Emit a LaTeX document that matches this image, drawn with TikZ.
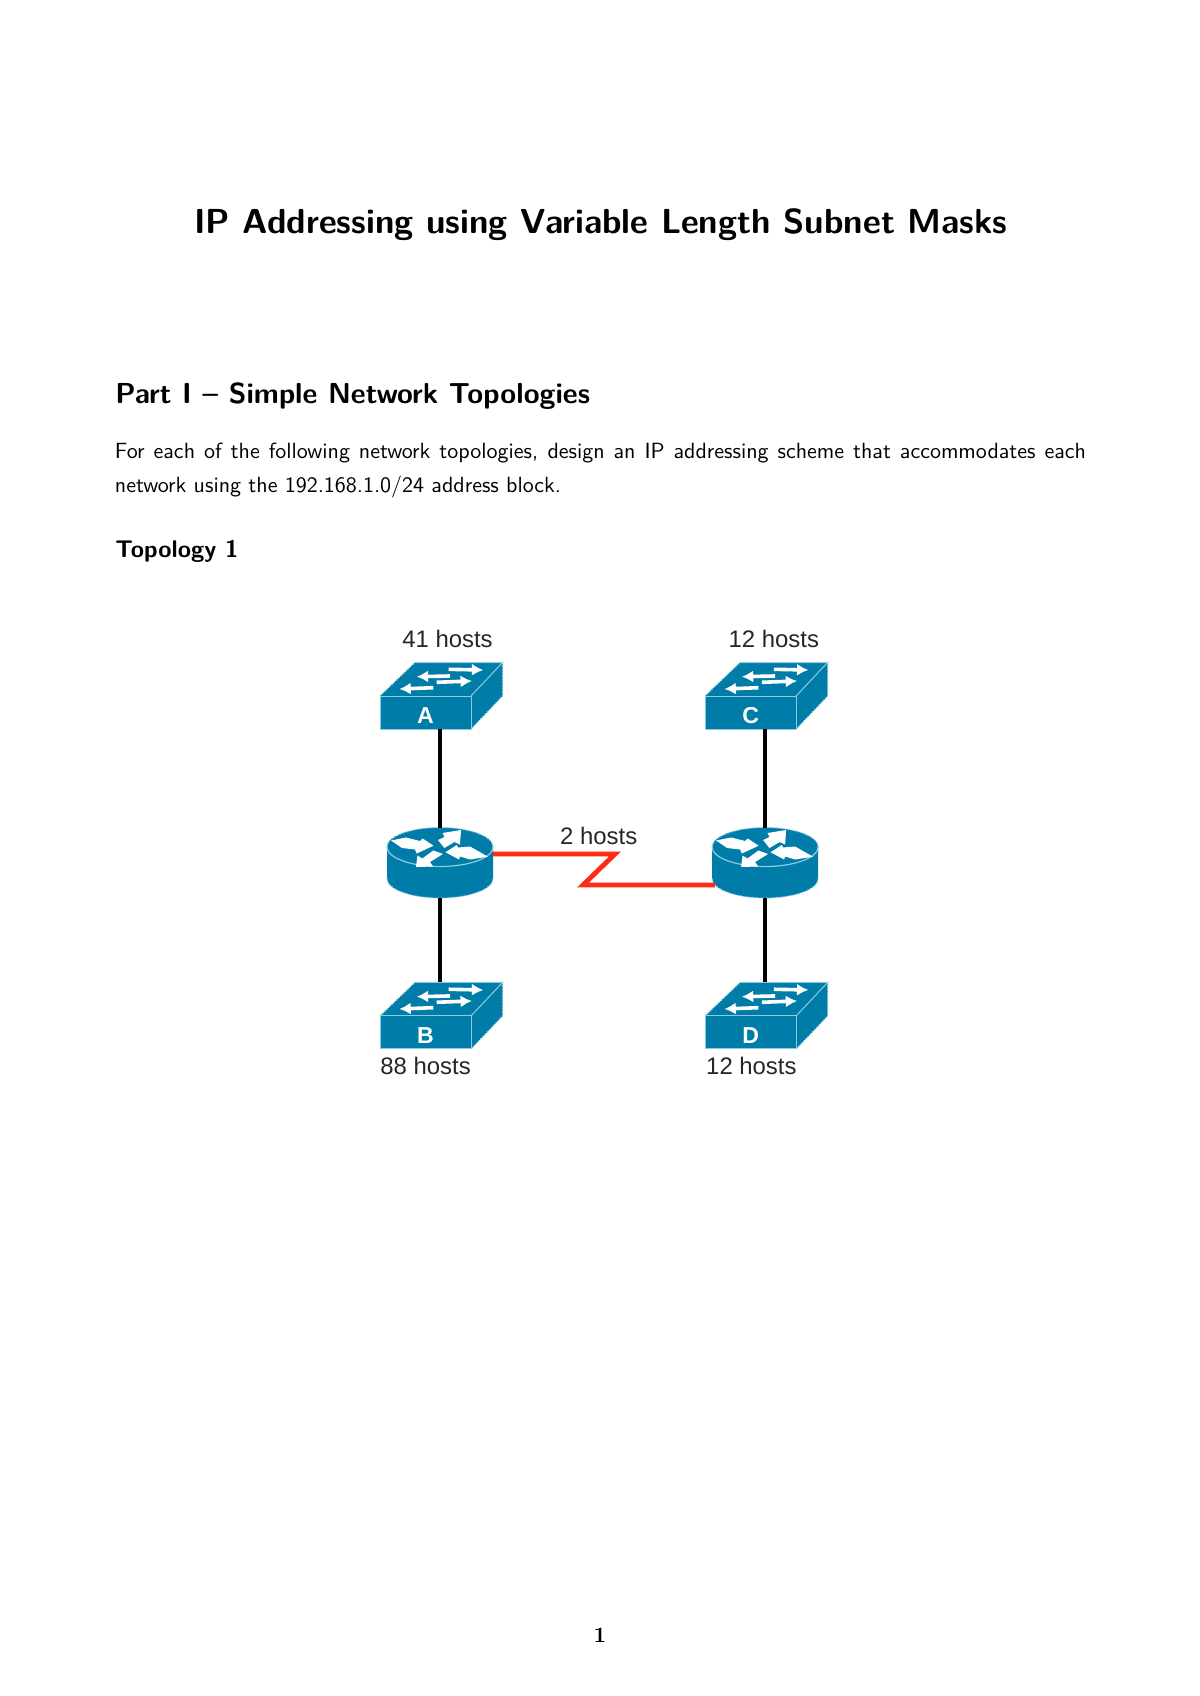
\documentclass[tikz,border=0pt]{standalone}
\usepackage{fontspec}
\newfontfamily\hostfont{Liberation Sans}
\usetikzlibrary{arrows.meta}
\definecolor{ciscoblue}{HTML}{007CA8}
\definecolor{ciscoedge}{HTML}{8CCBE0}
\definecolor{serialred}{HTML}{FF2A12}
\tikzset{
  swarr/.style={white, line width=1.8pt, -{Latex[length=2mm,width=2.1mm]}},
  iconface/.style={fill=ciscoblue, draw=ciscoedge, line width=0.5pt, line join=round},
  iconfringe/.style={draw=ciscoedge, line width=0.6pt, densely dotted},
  iconarr/.style={fill=white, draw=none},
  wire/.style={line width=2.2pt},
  serial/.style={draw=serialred, line width=2.4pt, miter limit=10},
  hostlbl/.style={font=\hostfont\fontsize{11.9}{14}\selectfont, inner sep=0pt, text=black!85},
  swlbl/.style={font=\hostfont\bfseries\fontsize{11.5}{13}\selectfont, text=white, inner sep=0pt},
  pics/switchbox/.style={code={
    \path[fill=ciscoblue] (0,0) -- (35,-33.5) -- (122.5,-33.5) -- (122.5,0) -- (91,33) -- (0,33) -- cycle;
    \path[iconfringe] (0,0) -- (35,-33.5) (122.5,-33.5) -- (122.5,0) -- (91,33);
    \draw[iconface] (0,0) rectangle (91,33);
    \draw[draw=ciscoedge, line width=0.5pt] (91,0) -- (122.5,-33.5) -- (35,-33.5);
    \foreach \xa/\ya/\xb/\yb in {68.7/-26.7/103.3/-26, 70/-20/36.7/-19.3, 56.7/-13.7/92/-15, 53.3/-8.3/19.3/-7}
      \draw[swarr] (\xa,\ya) -- (\xb,\yb);
    \node[swlbl] (-name) at (45.5,19.5) {#1};
    \node[coordinate] (-top) at (60,-33.5) {};
    \node[coordinate] (-bot) at (60,33) {};
  }},
  pics/routerdisc/.style={code={
    \path[fill=ciscoblue] (-53,0) -- (-53,31.5) arc[start angle=180, end angle=0, x radius=53, y radius=19.5] -- (53,0) arc[start angle=0, end angle=-180, x radius=53, y radius=19.5] -- cycle;
    \path[iconfringe] (-53,31.5) arc[start angle=180, end angle=0, x radius=53, y radius=19.5];
    \path[iconfringe] (53,0) arc[start angle=0, end angle=-180, x radius=53, y radius=19.5];
    \draw[draw=ciscoedge, line width=0.6pt] (-53,0) arc[start angle=180, end angle=0, x radius=53, y radius=19.5];
    \fill[iconarr] (-49,-6.5) -- (-34,-9.5) -- (-20,-6) -- (-17.3,-8.5) -- (-6.5,-1.3) -- (-23.3,6.5) -- (-25,2.5) -- (-38,1) -- cycle;
    \fill[iconarr] (-2,-7) -- (4.5,-10) -- (2.5,-14) -- (21,-17) -- (20,-2.5) -- (14.5,-5) -- (4.3,1) -- cycle;
    \fill[iconarr] (-24,20) -- (-22.5,8.5) -- (-17.7,11.5) -- (-6.7,3.5) -- (3,7) -- (-10,15) -- (-7,19.5) -- cycle;
    \fill[iconarr] (5.5,5.3) -- (16.7,-2) -- (18,0.5) -- (30,-0.5) -- (48,9.7) -- (30,12.5) -- (20,9.5) -- (19,12.5) -- cycle;
    \node[coordinate] (-top) at (0,-19.5) {};
    \node[coordinate] (-bot) at (0,51) {};
    \node[coordinate] (-east) at (53,7) {};
    \node[coordinate] (-west) at (-50,38) {};
  }},
}
\begin{document}
\begin{tikzpicture}[x=0.0175cm, y=-0.0175cm, font=\sffamily]
  \useasboundingbox (0,0) rectangle (1200,1696);
  \node[font=\sffamily\bfseries\fontsize{17.28}{21}\selectfont, anchor=base, inner sep=0pt] (title) at (601,233.7) {IP Addressing using Variable Length Subnet Masks};
  \node[font=\sffamily\bfseries\fontsize{14.4}{17}\selectfont, anchor=base west, inner sep=0pt] (part) at (115,403.7) {Part I -- Simple Network Topologies};
  \node[font=\sffamily\fontsize{10.95}{16.7}\selectfont, anchor=north west, inner sep=0pt, text width=483.6pt, align=justify] (intro) at (114.5,443) {For each of the following network topologies, design an IP addressing scheme that accommodates each network using the 192.168.1.0/24 address block.};
  \node[font=\sffamily\bfseries\fontsize{12}{14}\selectfont, anchor=base west, inner sep=0pt] (topo) at (115,557.7) {Topology 1};

  \node[coordinate] (orgA) at (380,696) {};
  \node[coordinate, right of=orgA, node distance=56.9mm] (orgC) {};
  \node[coordinate, below of=orgA, node distance=56mm] (orgB) {};
  \node[coordinate, below of=orgC, node distance=56mm] (orgD) {};
  \node[coordinate] (orgL) at (440,847) {};
  \node[coordinate, right of=orgL, node distance=56.9mm] (orgR) {};

  \pic (swA) at (orgA) {switchbox={A}};
  \pic (swC) at (orgC) {switchbox={C}};
  \pic (swB) at (orgB) {switchbox={B}};
  \pic (swD) at (orgD) {switchbox={D}};
  \pic (rtrL) at (orgL) {routerdisc};
  \pic (rtrR) at (orgR) {routerdisc};

  \draw[wire] (swA-bot) -- (rtrL-top);
  \draw[wire] (rtrL-bot) -- (swB-top);
  \draw[wire] (swC-bot) -- (rtrR-top);
  \draw[wire] (rtrR-bot) -- (swD-top);
  \draw[serial] (rtrL-east) -- ++(122,0) -- ++(-32,31) -- (rtrR-west);

  \node[hostlbl, anchor=base] (hostsA) at ([shift={(67.5,-49)}]orgA) {41 hosts};
  \node[hostlbl, anchor=base] (hostsC) at ([shift={(68.7,-49)}]orgC) {12 hosts};
  \node[hostlbl, anchor=base west] (hostsB) at ([shift={(0,58.3)}]orgB) {88 hosts};
  \node[hostlbl, anchor=base west] (hostsD) at ([shift={(0.7,58.3)}]orgD) {12 hosts};
  \node[hostlbl, anchor=base] (hostsS) at (598.7,844.3) {2 hosts};

  \node[font=\rmfamily\bfseries\fontsize{10.95}{13}\selectfont, anchor=base, inner sep=0pt] (pageno) at (600,1642) {1};
\end{tikzpicture}
\end{document}
